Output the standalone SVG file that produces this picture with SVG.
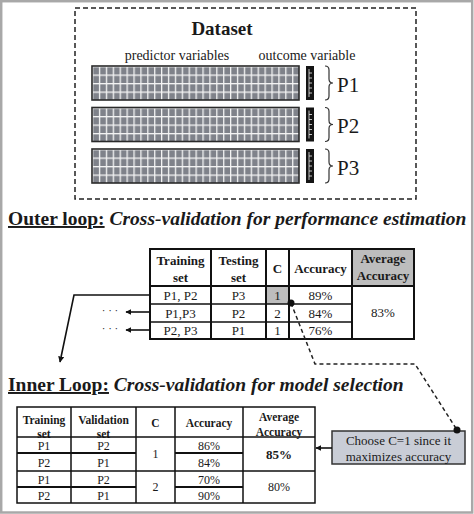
<svg xmlns="http://www.w3.org/2000/svg" width="474" height="514" viewBox="0 0 474 514">
<defs>
<style>
text{font-family:"Liberation Serif","Times New Roman",serif;fill:#1a1a1a}
.c{text-anchor:middle}
.hd{font-weight:bold;font-size:13px}
.d{font-size:13px}
.ih{font-weight:bold;font-size:11.5px}
.id{font-size:12px}
.ln{stroke:#111;stroke-width:1.5;fill:none}
.bd{stroke:#111;stroke-width:2;fill:none}
.bar{fill:url(#grid);stroke:#2a2a2a;stroke-width:1.6}
.out{fill:#141414}
.tick{stroke:#eee;stroke-width:0.8;fill:none}
.brace{stroke:#333;stroke-width:1.2;fill:none}
.dash{stroke:#222;stroke-width:1.5;fill:none;stroke-dasharray:4 3}
.arr{stroke:#111;stroke-width:1.6;fill:none;marker-end:url(#ah)}
</style>
<pattern id="grid" patternUnits="userSpaceOnUse" width="6.9" height="8.5">
<rect width="6.9" height="8.5" fill="#7f828a"/>
<rect x="0" y="0" width="1.3" height="8.5" fill="#f4f4f4"/>
<rect x="0" y="0" width="6.9" height="1.3" fill="#f4f4f4"/>
</pattern>
<marker id="ah" viewBox="0 0 10 10" refX="9" refY="5" markerWidth="6" markerHeight="6" orient="auto" markerUnits="userSpaceOnUse">
<path d="M0,0 L10,5 L0,10 Z" fill="#111"/>
</marker>
</defs>
<rect x="1.2" y="1.2" width="471" height="511.3" fill="#fff" stroke="#a8a8a8" stroke-width="2.5"/>

<g id="dataset">
<rect x="75" y="8" width="341" height="191" fill="none" stroke="#222" stroke-width="1.5" stroke-dasharray="5 3"/>
<text x="222" y="35" class="c" font-size="19" font-weight="bold">Dataset</text>
<text x="177" y="60" class="c" font-size="14">predictor variables</text>
<text x="307" y="60" class="c" font-size="14">outcome variable</text>
<g transform="translate(92,66)"><rect class="bar" width="207" height="34"/></g>
<g transform="translate(92,107.5)"><rect class="bar" width="207" height="34"/></g>
<g transform="translate(92,149)"><rect class="bar" width="207" height="34"/></g>
<g transform="translate(306,66)"><rect class="out" width="8" height="34"/><path class="tick" d="M3,3V31M3,7H6M3,12H6M3,17H6M3,22H6M3,27H6"/></g>
<g transform="translate(306,107.5)"><rect class="out" width="8" height="34"/><path class="tick" d="M3,3V31M3,7H6M3,12H6M3,17H6M3,22H6M3,27H6"/></g>
<g transform="translate(306,149)"><rect class="out" width="8" height="34"/><path class="tick" d="M3,3V31M3,7H6M3,12H6M3,17H6M3,22H6M3,27H6"/></g>
<path class="brace" d="M325,66q4,0 4,4v9q0,4 4,4q-4,0 -4,4v9q0,4 -4,4"/>
<path class="brace" d="M325,107.5q4,0 4,4v9q0,4 4,4q-4,0 -4,4v9q0,4 -4,4"/>
<path class="brace" d="M325,149q4,0 4,4v9q0,4 4,4q-4,0 -4,4v9q0,4 -4,4"/>
<text x="337" y="92" font-size="21">P1</text>
<text x="337" y="133" font-size="21">P2</text>
<text x="337" y="175" font-size="21">P3</text>
</g>

<g id="outer-heading">
<text x="8" y="225" font-size="19.5" font-weight="bold"><tspan text-decoration="underline">Outer loop:</tspan><tspan font-style="italic"> Cross-validation for performance estimation</tspan></text>
</g>

<g id="outer-table">
<rect x="352" y="249" width="62" height="37" fill="#bdbdbd"/>
<rect x="266" y="286" width="23" height="18" fill="#bdbdbd"/>
<text x="180.5" y="265" class="c hd">Training</text>
<text x="180.5" y="282" class="c hd">set</text>
<text x="238.5" y="265" class="c hd">Testing</text>
<text x="238.5" y="282" class="c hd">set</text>
<text x="277.5" y="273" class="c hd" font-size="14">C</text>
<text x="320.5" y="273" class="c hd">Accuracy</text>
<text x="383" y="263" class="c hd">Average</text>
<text x="383" y="280" class="c hd">Accuracy</text>
<text x="180.5" y="299.5" class="c d">P1, P2</text>
<text x="238.5" y="299.5" class="c d">P3</text>
<text x="277.5" y="299.5" class="c d">1</text>
<text x="320.5" y="299.5" class="c d">89%</text>
<text x="180.5" y="317.5" class="c d">P1,P3</text>
<text x="238.5" y="317.5" class="c d">P2</text>
<text x="277.5" y="317.5" class="c d">2</text>
<text x="320.5" y="317.5" class="c d">84%</text>
<text x="180.5" y="335" class="c d">P2, P3</text>
<text x="238.5" y="335" class="c d">P1</text>
<text x="277.5" y="335" class="c d">1</text>
<text x="320.5" y="335" class="c d">76%</text>
<text x="383" y="317" class="c d">83%</text>
<rect class="bd" x="150" y="249" width="264" height="90"/>
<path class="bd" d="M211,249V339M266,249V339M289,249V339M352,249V339M150,286H414"/>
<path class="ln" d="M150,304H352M150,322H352"/>
</g>

<g id="inner-heading">
<text x="8" y="391" font-size="19.5" font-weight="bold"><tspan text-decoration="underline">Inner Loop:</tspan><tspan font-style="italic"> Cross-validation for model selection</tspan></text>
</g>

<g id="inner-table">
<text x="44" y="424" class="c ih">Training</text>
<text x="44" y="437.5" class="c ih">set</text>
<text x="103.5" y="424" class="c ih">Validation</text>
<text x="103.5" y="437.5" class="c ih">set</text>
<text x="155.5" y="427" class="c ih" font-size="13">C</text>
<text x="209" y="427" class="c ih">Accuracy</text>
<text x="279" y="421" class="c ih">Average</text>
<text x="279" y="435.5" class="c ih">Accuracy</text>
<text x="44" y="449.5" class="c id">P1</text>
<text x="103.5" y="449.5" class="c id">P2</text>
<text x="44" y="466.5" class="c id">P2</text>
<text x="103.5" y="466.5" class="c id">P1</text>
<text x="44" y="483.5" class="c id">P1</text>
<text x="103.5" y="483.5" class="c id">P2</text>
<text x="44" y="499.5" class="c id">P2</text>
<text x="103.5" y="499.5" class="c id">P1</text>
<text x="155.5" y="458" class="c id">1</text>
<text x="155.5" y="491" class="c id">2</text>
<text x="209" y="449.5" class="c id">86%</text>
<text x="209" y="466.5" class="c id">84%</text>
<text x="209" y="483.5" class="c id">70%</text>
<text x="209" y="499.5" class="c id">90%</text>
<text x="279" y="459" class="c" font-size="13" font-weight="bold">85%</text>
<text x="279" y="491" class="c id">80%</text>
<rect class="ln" x="17" y="407" width="298" height="96"/>
<path class="ln" d="M71,407V503M136,407V503M175,407V503M243,407V503M17,437H315M17,471H315"/>
<path class="bd" d="M17,453H136M175,453H243M17,487H136M175,487H243"/>
</g>

<g id="choose-box">
<rect x="332" y="431" width="133" height="33" fill="#c9cdd6" stroke="#333" stroke-width="1.5"/>
<text x="398.5" y="444.5" class="c" font-size="13">Choose C=1 since it</text>
<text x="398.5" y="460.5" class="c" font-size="13">maximizes accuracy</text>
</g>

<g id="connectors">
<path class="arr" d="M150,295H74L60,362"/>
<path class="arr" d="M150,312H126"/>
<path class="arr" d="M150,330H126"/>
<text x="110" y="314" class="c" font-size="11">· · ·</text>
<text x="110" y="332" class="c" font-size="11">· · ·</text>
<path class="dash" d="M291,303L315,364H415L457,430"/>
<circle cx="291" cy="303" r="3.5" fill="#111"/>
<circle cx="457" cy="430" r="3.5" fill="#111"/>
<path class="arr" d="M332,448H316"/>
</g>
</svg>
